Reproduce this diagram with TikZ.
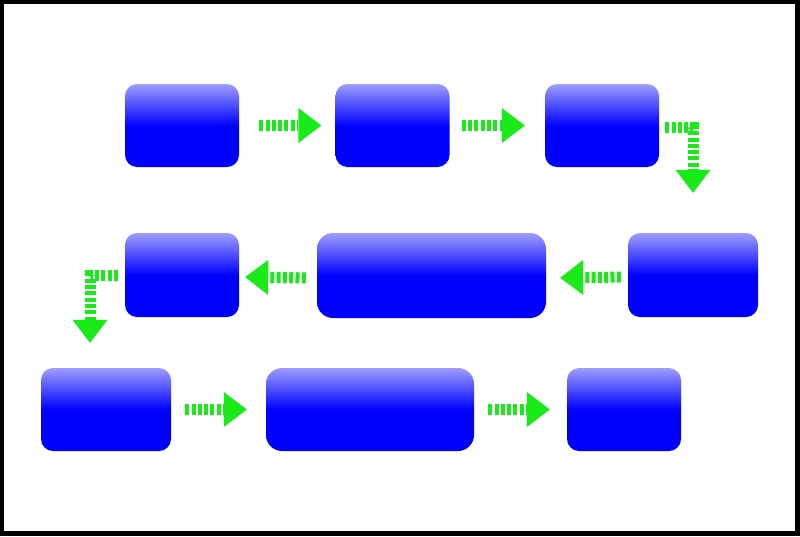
\documentclass[tikz,border=0pt]{standalone}
\usetikzlibrary{arrows.meta}
\definecolor{verde}{RGB}{25,235,25}
\begin{document}
\begin{tikzpicture}[x=1pt,y=-1pt,
    box/.style={rounded corners=12pt, minimum width=114pt, minimum height=83pt,
        top color=blue!38!white, bottom color=blue, middle color=blue, inner sep=0pt},
    largo/.style={box, rounded corners=16pt},
    flow/.style={draw=verde, line width=11pt, dash pattern=on 4pt off 2.3pt,
        -{Triangle[length=23pt,width=35pt,line width=0pt]}}]
            % cornice
            \fill[black] (0,0) rectangle (800,536);
            \fill[white] (4,4) rectangle (795,531);

            % Prima riga
            \node[box] (A) at (182,125.5) {};
            \node[box] (B) at (392.5,125.5) {};
            \node[box] (C) at (602,125.5) {};

            % Seconda riga
            \node[box, minimum width=130pt, minimum height=84pt] (D) at (693,275) {};
            \node[largo, minimum width=229pt, minimum height=85pt] (E) at (431.5,275.5) {};
            \node[box, minimum height=84pt] (F) at (182,275) {};

            % Terza riga
            \node[box, minimum width=130pt] (G) at (106,409.5) {};
            \node[largo, minimum width=208pt] (H) at (370,409.5) {};
            \node[box] (I) at (624,409.5) {};

            % Collegamenti
            \draw[flow, shorten <=20pt, shorten >=14pt] (A) -- (B);
            \draw[flow, shorten <=12pt, shorten >=20pt] (B) -- (C);
            \draw[flow, shorten <=6pt, shorten >=40pt] ([yshift=-2pt]C.east) -| (D.north);
            \draw[flow, shorten <=7pt, shorten >=14pt] ([yshift=-2pt]D.west) -- ([yshift=-2.5pt]E.east);
            \draw[flow, shorten <=11pt, shorten >=6pt] ([yshift=-2.5pt]E.west) -- ([yshift=-2pt]F.east);
            \draw[flow, shorten <=7pt, shorten >=25pt] (F.west) -| ([xshift=-16pt]G.north);
            \draw[flow, shorten <=14pt, shorten >=19pt] (G) -- (H);
            \draw[flow, shorten <=14pt, shorten >=17pt] (H) -- (I);
        \end{tikzpicture}
\end{document}
